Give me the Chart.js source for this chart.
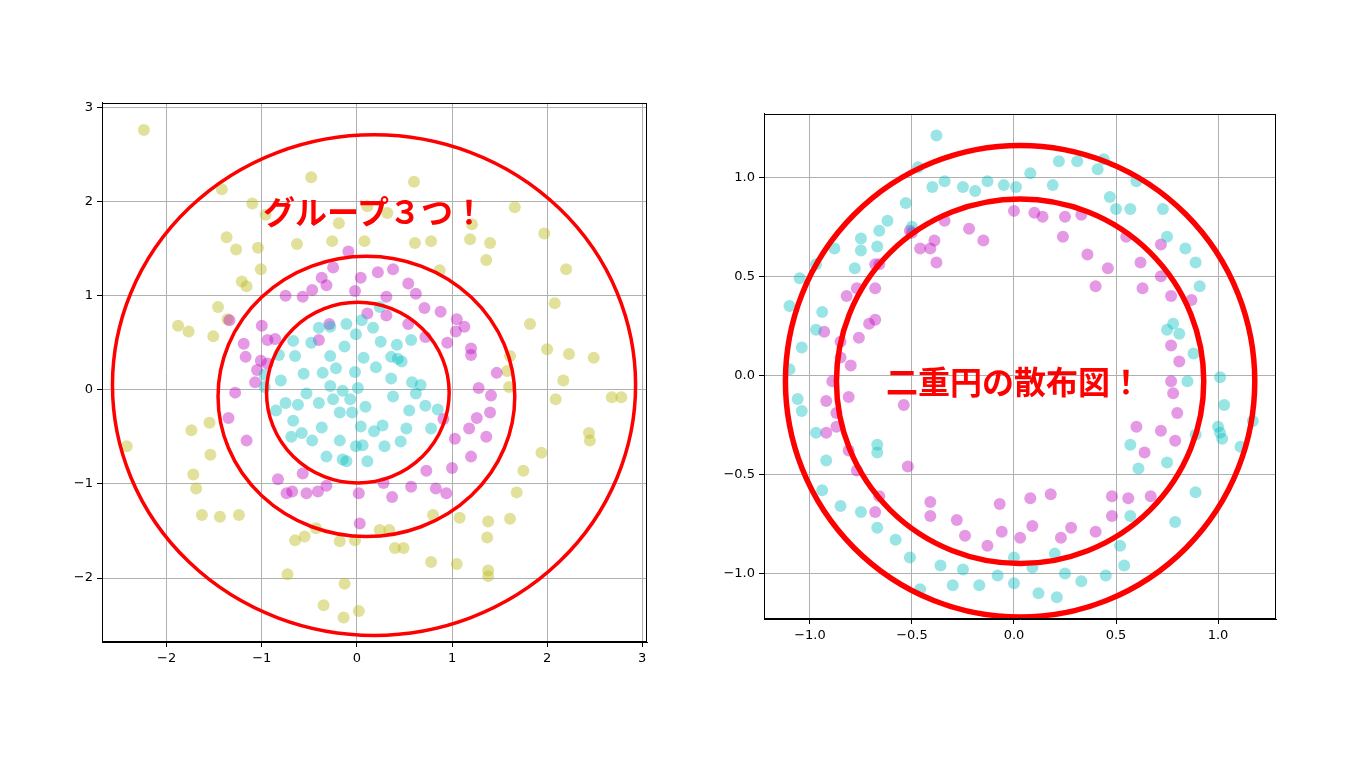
<!DOCTYPE html>
<html><head><meta charset="utf-8">
<script src="https://cdn.jsdelivr.net/npm/chart.js@4"></script>
<style>
body{margin:0;width:1358px;height:768px;background:#fff;position:relative;overflow:hidden}
.box{position:absolute}
.lbl{position:absolute;color:#f00;font-family:"Noto Sans CJK JP";font-weight:bold;font-size:32px;white-space:nowrap;transform:translate(-50%,-50%)}
</style></head><body>
<div class="box" id="b1" style="left:52px;top:91px;width:615px;height:591px"><canvas id="c1"></canvas></div>
<div class="box" id="b2" style="left:714px;top:102px;width:582px;height:557px"><canvas id="c2"></canvas></div>
<div class="lbl" style="left:374px;top:210px">グループ３つ！</div>
<div class="lbl" style="left:1014px;top:380px">二重円の散布図！</div>
<script>
const leftTicks=[-2,-1,0,1,2,3];
const rightTicks=[-1.0,-0.5,0.0,0.5,1.0];
const leftYellow=[[-2.24,2.76],[-2.42,-0.60],[-1.42,2.13],[-0.48,2.26],[0.60,2.21],[-1.1,1.98],[-1.37,1.62],[-1.27,1.49],[-1.04,1.51],[-0.96,1.86],[-0.63,1.55],[-0.26,1.58],[-0.19,1.77],[0.08,1.58],[0.11,1.95],[0.32,1.88],[0.61,1.56],[0.78,1.58],[1.19,1.6],[1.4,1.56],[1.36,1.38],[0.87,1.27],[1.66,1.94],[1.97,1.66],[2.2,1.28],[2.08,0.92],[1.82,0.70],[2.0,0.43],[2.23,0.38],[2.49,0.34],[1.58,0.2],[1.6,0.03],[2.09,-0.1],[2.17,0.1],[2.78,-0.08],[2.68,-0.08],[2.44,-0.46],[2.45,-0.54],[1.94,-0.67],[1.75,-0.86],[1.68,-1.09],[1.61,-1.37],[1.38,-1.4],[1.08,-1.36],[0.8,-1.33],[1.37,-1.57],[1.38,-1.92],[1.38,-1.98],[1.05,-1.85],[0.78,-1.83],[0.4,-1.68],[0.49,-1.68],[0.34,-1.49],[0.24,-1.49],[-0.02,-1.6],[-0.18,-1.61],[-0.43,-1.47],[-0.55,-1.56],[-0.65,-1.6],[-0.73,-1.96],[-0.35,-2.29],[-0.14,-2.42],[0.02,-2.35],[-0.13,-2.06],[-1.24,-1.33],[-1.44,-1.35],[-1.63,-1.33],[-1.69,-1.05],[-1.72,-0.9],[-1.74,-0.43],[-1.55,-0.35],[-1.54,-0.69],[-1.88,0.68],[-1.77,0.62],[-1.51,0.57],[-1.46,0.88],[-1.36,0.75],[-1.21,1.15],[-1.16,1.1],[-1.01,1.28],[1.21,1.76],[1.61,0.36]];
const leftMagenta=[[-0.09,1.47],[-0.37,1.19],[-0.32,1.11],[-0.25,1.3],[-0.47,1.06],[-0.57,0.99],[-0.75,1.0],[0.22,1.25],[0.38,1.28],[0.54,1.13],[0.62,1.02],[0.31,0.99],[0.31,0.79],[0.11,0.81],[-0.02,1.05],[0.04,1.19],[0.71,0.87],[0.88,0.83],[1.05,0.75],[1.13,0.67],[1.04,0.62],[0.95,0.5],[1.2,0.44],[1.2,0.37],[1.47,0.18],[1.28,0.02],[1.41,-0.06],[1.4,-0.24],[1.26,-0.3],[1.18,-0.41],[1.03,-0.52],[1.2,-0.71],[1.36,-0.5],[1.0,-0.83],[0.83,-1.05],[0.94,-1.1],[0.57,-1.03],[0.28,-0.99],[0.02,-1.1],[0.03,-1.42],[-0.32,-1.02],[-0.41,-1.08],[-0.53,-1.1],[-0.68,-1.08],[-0.74,-1.1],[-0.83,-0.95],[-0.57,-0.89],[-1.16,-0.54],[-1.35,-0.3],[-1.28,-0.03],[-1.07,0.08],[-1.17,0.35],[-1.01,0.31],[-0.94,0.28],[-1.19,0.49],[-0.94,0.53],[-1.0,0.68],[-1.34,0.74],[-1.05,0.21],[-0.86,0.54],[-0.4,0.53],[-0.29,0.7],[0.54,0.7],[0.72,0.56],[0.37,-1.14],[0.73,-0.86],[0.91,-0.31]];
const leftCyan=[[-0.48,0.5],[-0.67,0.52],[-0.82,0.37],[-0.97,0.16],[-0.8,0.1],[-0.75,-0.14],[-0.62,-0.16],[-0.85,-0.22],[-0.67,-0.33],[-0.58,-0.46],[-0.47,-0.54],[-0.69,-0.5],[-0.4,-0.14],[-0.37,-0.4],[-0.32,-0.71],[-0.15,-0.74],[-0.11,-0.76],[-0.01,-0.6],[0.06,-0.59],[0.04,-0.39],[0.18,-0.44],[0.27,-0.38],[0.09,-0.18],[-0.05,-0.24],[-0.18,-0.24],[-0.15,-0.01],[0.01,0.02],[-0.22,0.23],[-0.28,0.36],[-0.13,0.46],[-0.01,0.59],[0.05,0.74],[0.17,0.66],[0.25,0.51],[0.07,0.34],[0.2,0.24],[0.36,0.35],[0.42,0.48],[0.57,0.53],[0.43,0.33],[0.36,0.12],[0.38,-0.07],[0.58,0.08],[0.62,-0.04],[0.72,-0.17],[0.55,-0.22],[0.52,-0.41],[0.46,-0.55],[0.78,-0.41],[0.85,-0.21],[0.67,0.05],[-0.28,0.67],[-0.4,0.66],[-0.56,0.17],[-0.28,0.04],[-0.36,0.18],[-0.53,-0.04],[-0.02,0.19],[0.24,0.88],[-0.11,0.7],[0.47,0.3],[-0.18,-0.54],[0.11,-0.76],[0.29,-0.6],[-0.07,-0.1],[-0.25,-0.1],[-0.65,0.36],[-0.97,0.03]];
const rightCyan=[[-0.38,1.21],[-0.47,1.05],[-0.4,0.95],[-0.34,0.98],[-0.25,0.95],[-0.19,0.93],[-0.13,0.98],[-0.05,0.96],[0.01,0.95],[0.08,1.02],[0.22,1.08],[0.31,1.08],[0.41,1.04],[0.44,1.09],[0.19,0.96],[0.47,0.9],[0.57,0.84],[0.5,0.84],[0.6,0.98],[0.73,0.84],[0.75,0.7],[0.84,0.64],[0.91,0.45],[0.89,0.57],[0.75,0.23],[0.81,0.21],[0.85,-0.03],[0.88,0.11],[1.01,-0.01],[1.03,-0.15],[1.01,-0.29],[1.0,-0.26],[1.17,-0.23],[1.11,-0.36],[0.89,-0.3],[0.89,-0.59],[0.75,-0.44],[0.57,-0.35],[0.61,-0.47],[0.57,-0.71],[0.52,-0.86],[0.54,-0.96],[0.45,-1.01],[0.33,-1.04],[0.25,-1.0],[0.2,-0.9],[0.12,-1.1],[0.21,-1.12],[0.09,-0.97],[0.0,-0.92],[0.0,-1.05],[-0.08,-1.01],[-0.17,-1.06],[-0.25,-0.98],[-0.3,-1.06],[-0.36,-0.96],[-0.46,-1.08],[-0.51,-0.92],[-0.58,-0.83],[-0.67,-0.77],[-0.75,-0.69],[-0.85,-0.66],[-0.94,-0.58],[-0.92,-0.43],[-0.97,-0.29],[-1.04,-0.18],[-1.06,-0.12],[-1.1,0.03],[-1.04,0.14],[-0.97,0.23],[-0.94,0.32],[-1.1,0.35],[-1.05,0.49],[-0.97,0.56],[-0.88,0.64],[-0.78,0.54],[-0.75,0.69],[-0.67,0.65],[-0.62,0.78],[-0.53,0.87],[-0.5,0.75],[-0.75,0.63],[-0.66,0.73],[-0.67,-0.39],[-0.67,-0.35],[0.78,0.26],[1.02,-0.32],[0.79,-0.74]];
const rightMagenta=[[-0.46,0.64],[-0.39,0.68],[-0.38,0.57],[-0.41,0.64],[-0.5,0.72],[-0.34,0.78],[-0.22,0.74],[-0.15,0.68],[0.0,0.83],[0.1,0.82],[0.14,0.8],[0.25,0.8],[0.33,0.81],[0.24,0.7],[0.36,0.61],[0.4,0.45],[0.46,0.54],[0.55,0.7],[0.62,0.57],[0.72,0.66],[0.63,0.44],[0.72,0.5],[0.77,0.4],[0.87,0.38],[0.77,0.15],[0.81,0.07],[0.77,-0.03],[0.78,-0.09],[0.8,-0.19],[0.72,-0.28],[0.79,-0.33],[0.6,-0.26],[0.64,-0.39],[0.67,-0.61],[0.56,-0.62],[0.48,-0.61],[0.48,-0.71],[0.4,-0.79],[0.28,-0.77],[0.23,-0.82],[0.18,-0.6],[0.08,-0.62],[0.09,-0.76],[0.03,-0.82],[-0.06,-0.79],[-0.07,-0.65],[-0.13,-0.86],[-0.24,-0.81],[-0.28,-0.73],[-0.41,-0.71],[-0.41,-0.64],[-0.52,-0.46],[-0.66,-0.61],[-0.68,-0.69],[-0.77,-0.48],[-0.81,-0.38],[-0.87,-0.26],[-0.81,-0.11],[-0.87,-0.19],[-0.85,0.09],[-0.8,0.05],[-0.85,0.17],[-0.76,0.19],[-0.71,0.26],[-0.68,0.28],[-0.82,0.4],[-0.77,0.44],[-0.68,0.44],[-0.68,0.56],[-0.66,0.56],[-0.93,0.22],[-0.92,-0.13],[-0.89,-0.03],[-0.54,-0.15],[-0.92,-0.29],[-0.51,0.73]];
// circles: [cx, cy, rx, ry]
const leftCircles=[[0.18,0.05,2.75,2.66],[0.1,-0.07,1.56,1.49],[0.01,-0.03,0.96,0.96]];
const rightCircles=[[0.03,-0.03,1.15,1.19],[0.03,-0.03,0.90,0.92]];

const fmt=(v,d)=>{const s=Math.abs(v).toFixed(d);return v<0?'\u2212'+s:s;};
const circlePlugin={id:'circ',afterDatasetsDraw(ch,a,o){
  const x=ch.scales.x,y=ch.scales.y,c=ch.ctx,A=ch.chartArea;c.save();
  c.beginPath();c.rect(A.left,A.top,A.width,A.height);c.clip();
  c.strokeStyle='#ff0000';c.lineWidth=ch.options.plugins.circ.w;
  for(const [cx,cy,rx,ry] of ch.options.plugins.circ.list){
    const px=x.getPixelForValue(cx),py=y.getPixelForValue(cy);
    const rpx=Math.abs(x.getPixelForValue(cx+rx)-px),rpy=Math.abs(y.getPixelForValue(cy+ry)-py);
    c.beginPath();c.ellipse(px,py,rpx,rpy,0,0,Math.PI*2);c.stroke();
  }
  c.restore();
  c.save();c.strokeStyle='#000';c.lineWidth=1;
  c.strokeRect(Math.round(A.left)+0.5,Math.round(A.top)+0.5,Math.round(A.width)-1,Math.round(A.height)-1);c.restore();}};
function ds(arr,col){return {data:arr.map(p=>({x:p[0],y:p[1]})),backgroundColor:col,borderWidth:0,pointRadius:6,pointHoverRadius:6};}
function axis(min,max,ticks,d,isY){return {type:'linear',min,max,
  afterBuildTicks:s=>{s.ticks=ticks.map(v=>({value:v}));},
  afterFit:s=>{if(isY)s.width=40;else s.height=40;},
  ticks:{color:'#000',font:{family:'DejaVu Sans',size:13},callback:v=>fmt(v,d),padding:4,maxRotation:0,autoSkip:false},
  grid:{color:'#b0b0b0',lineWidth:1,tickColor:'#000',tickLength:5},
  border:{color:'#000',width:1}};}
function make(id,sets,xr,yr,ticks,d,circ,w,pad){
  new Chart(document.getElementById(id),{type:'scatter',data:{datasets:sets},
   options:{responsive:true,maintainAspectRatio:false,animation:false,events:[],
    layout:{padding:pad},
    plugins:{legend:{display:false},tooltip:{enabled:false},circ:{list:circ,w}},
    scales:{x:axis(xr[0],xr[1],ticks,d,false),y:axis(yr[0],yr[1],ticks,d,true)}},
   plugins:[circlePlugin]});}
make('c1',[ds(leftCyan,'rgba(0,191,191,0.4)'),ds(leftMagenta,'rgba(191,0,191,0.4)'),ds(leftYellow,'rgba(188,189,34,0.45)')],
  [-2.68,3.05],[-2.68,3.05],leftTicks,0,leftCircles,3.5,{left:10,right:20,top:10,bottom:0});
make('c2',[ds(rightCyan,'rgba(0,191,191,0.4)'),ds(rightMagenta,'rgba(191,0,191,0.4)')],
  [-1.225,1.284],[-1.23,1.32],rightTicks,1,rightCircles,5.5,{left:10,right:20,top:10,bottom:0});
</script></body></html>
